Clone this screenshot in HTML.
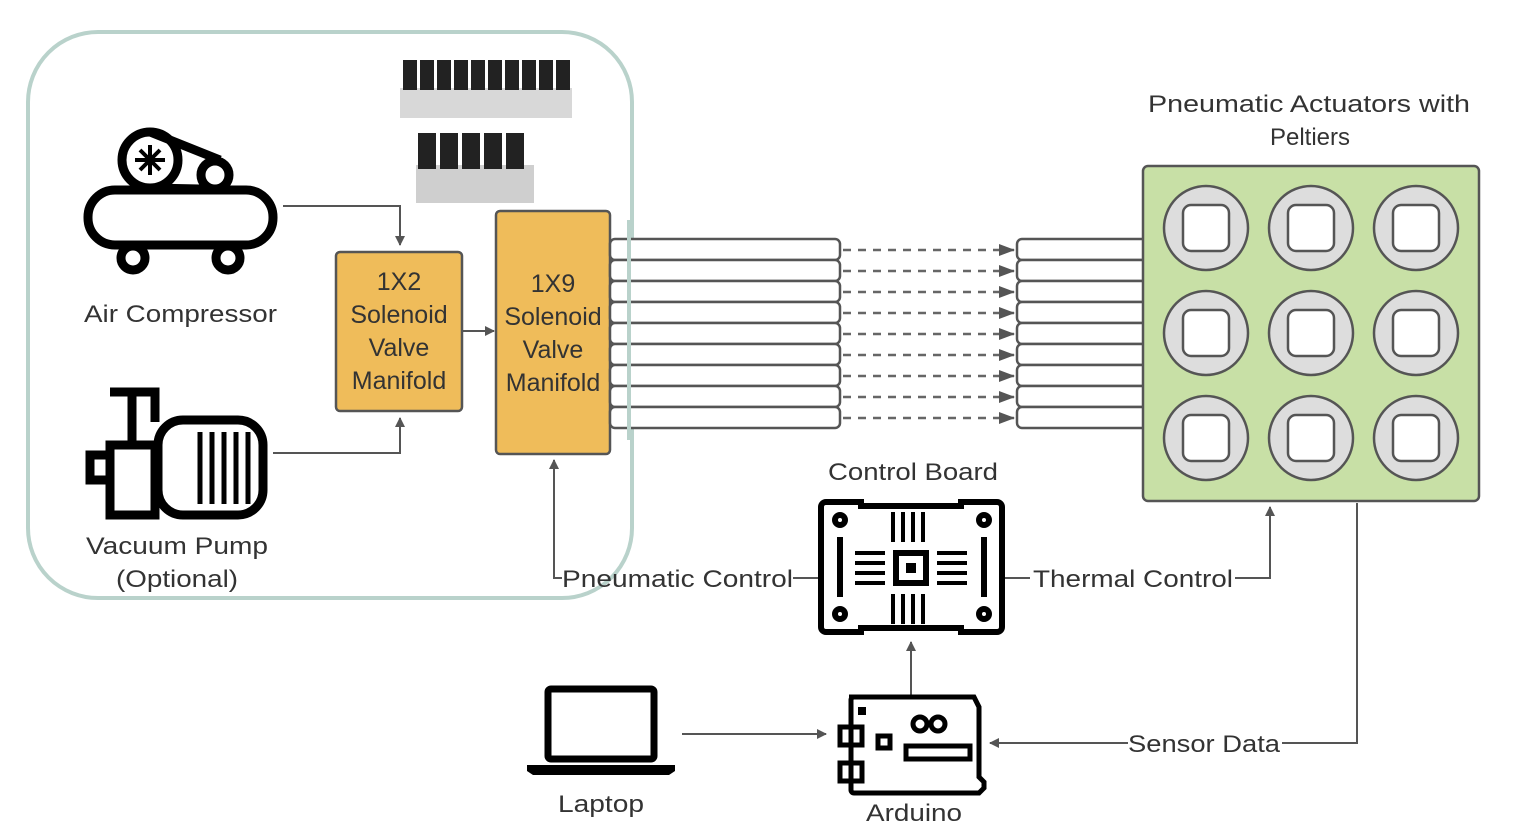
<!DOCTYPE html>
<html><head><meta charset="utf-8"><style>
html,body{margin:0;padding:0;background:#fff;}
svg{display:block;}
text{font-family:"Liberation Sans",sans-serif;fill:#333;}
</style></head><body>
<svg width="1513" height="837" viewBox="0 0 1513 837" xmlns="http://www.w3.org/2000/svg">
<defs>
<marker id="ah" markerWidth="10" markerHeight="10" refX="9" refY="5" orient="auto" markerUnits="userSpaceOnUse">
<path d="M0,0 L10,5 L0,10 z" fill="#555"/></marker>
<marker id="ah2" markerWidth="16" markerHeight="12" refX="15" refY="6" orient="auto" markerUnits="userSpaceOnUse">
<path d="M0,0 L16,6 L0,12 z" fill="#555"/></marker>
</defs>
<rect x="28" y="32" width="604" height="566" rx="70" fill="none" stroke="#b9d2cb" stroke-width="4"/>

<g>
<rect x="400" y="88" width="172" height="30" fill="#d8d8d8"/>
<g fill="#222">
<rect x="403" y="60" width="14" height="30"/><rect x="420" y="60" width="14" height="30"/><rect x="437" y="60" width="14" height="30"/><rect x="454" y="60" width="14" height="30"/><rect x="471" y="60" width="14" height="30"/><rect x="488" y="60" width="14" height="30"/><rect x="505" y="60" width="14" height="30"/><rect x="522" y="60" width="14" height="30"/><rect x="539" y="60" width="14" height="30"/><rect x="556" y="60" width="14" height="30"/>
</g>
<rect x="416" y="165" width="118" height="38" fill="#cfcfcf"/>
<g fill="#222">
<rect x="418" y="133" width="18" height="36"/><rect x="440" y="133" width="18" height="36"/><rect x="462" y="133" width="18" height="36"/><rect x="484" y="133" width="18" height="36"/><rect x="506" y="133" width="18" height="36"/>
</g>
</g>

<g fill="none" stroke="#000" stroke-width="9">
<rect x="88" y="190" width="185" height="55" rx="27"/>
<circle cx="133" cy="258" r="12" fill="#fff"/><circle cx="228" cy="258" r="12" fill="#fff"/>
<circle cx="150" cy="160" r="28"/><circle cx="215" cy="175" r="14"/>
<path d="M150,132 L220,160 M150,188 L200,189"/>
</g>
<g stroke="#000" stroke-width="4"><path d="M135,160h30M150,145v30M140,150l20,20M160,150l-20,20"/></g>
<text x="84" y="322" font-size="24" textLength="193" lengthAdjust="spacingAndGlyphs">Air Compressor</text>

<g fill="none" stroke="#000" stroke-width="9">
<path d="M110,392h45v30 M132,392v50 M110,445h45v70h-45z M90,455h20v25h-20z"/>
<rect x="158" y="420" width="105" height="95" rx="25"/>
</g>
<g stroke="#000" stroke-width="5"><path d="M200,432v72M212,432v72M224,432v72M236,432v72M248,432v72"/></g>
<text x="86" y="554" font-size="24" textLength="182" lengthAdjust="spacingAndGlyphs">Vacuum Pump</text>
<text x="116" y="587" font-size="24" textLength="122" lengthAdjust="spacingAndGlyphs">(Optional)</text>

<g stroke="#555" stroke-width="2" fill="none">
<path d="M283,206H400V245" marker-end="url(#ah)"/>
<path d="M273,453H400V418" marker-end="url(#ah)"/>
<path d="M462,331H494" marker-end="url(#ah)"/>
<path d="M562,578H554V460" marker-end="url(#ah)"/>
<path d="M1235,578H1270V507" marker-end="url(#ah)"/>
<path d="M911,695V642" marker-end="url(#ah)"/>
<path d="M682,734H826" marker-end="url(#ah)"/>
<path d="M1357,503V743H1282"/>
<path d="M1128,743H990" marker-end="url(#ah)"/>
<path d="M793,578H820M1003,578H1030"/>
</g>

<rect x="336" y="252" width="126" height="159" rx="4" fill="#efbc5a" stroke="#555" stroke-width="2.5"/>
<text font-size="25" text-anchor="middle"><tspan x="399" y="290">1X2</tspan><tspan x="399" y="323">Solenoid</tspan><tspan x="399" y="356">Valve</tspan><tspan x="399" y="389">Manifold</tspan></text>
<rect x="496" y="211" width="114" height="243" rx="4" fill="#efbc5a" stroke="#555" stroke-width="2.5"/>
<text font-size="25" text-anchor="middle"><tspan x="553" y="292">1X9</tspan><tspan x="553" y="325">Solenoid</tspan><tspan x="553" y="358">Valve</tspan><tspan x="553" y="391">Manifold</tspan></text>

<g stroke="#555" stroke-width="2.5" fill="#fff">
<rect x="610" y="239" width="230" height="21" rx="5"/><rect x="610" y="260" width="230" height="21" rx="5"/><rect x="610" y="281" width="230" height="21" rx="5"/><rect x="610" y="302" width="230" height="21" rx="5"/><rect x="610" y="323" width="230" height="21" rx="5"/><rect x="610" y="344" width="230" height="21" rx="5"/><rect x="610" y="365" width="230" height="21" rx="5"/><rect x="610" y="386" width="230" height="21" rx="5"/><rect x="610" y="407" width="230" height="21" rx="5"/>
<rect x="1017" y="239" width="140" height="21" rx="5"/><rect x="1017" y="260" width="140" height="21" rx="5"/><rect x="1017" y="281" width="140" height="21" rx="5"/><rect x="1017" y="302" width="140" height="21" rx="5"/><rect x="1017" y="323" width="140" height="21" rx="5"/><rect x="1017" y="344" width="140" height="21" rx="5"/><rect x="1017" y="365" width="140" height="21" rx="5"/><rect x="1017" y="386" width="140" height="21" rx="5"/><rect x="1017" y="407" width="140" height="21" rx="5"/>
</g>
<line x1="629" y1="220" x2="629" y2="440" stroke="#b9d2cb" stroke-width="4"/>
<g stroke="#666" stroke-width="2.5" stroke-dasharray="8,7" fill="none">
<path d="M843,250H1014" marker-end="url(#ah2)"/><path d="M843,271H1014" marker-end="url(#ah2)"/><path d="M843,292H1014" marker-end="url(#ah2)"/><path d="M843,313H1014" marker-end="url(#ah2)"/><path d="M843,334H1014" marker-end="url(#ah2)"/><path d="M843,355H1014" marker-end="url(#ah2)"/><path d="M843,376H1014" marker-end="url(#ah2)"/><path d="M843,397H1014" marker-end="url(#ah2)"/><path d="M843,418H1014" marker-end="url(#ah2)"/>
</g>

<rect x="1143" y="166" width="336" height="335" rx="5" fill="#c8e0a6" stroke="#555" stroke-width="2.5"/>
<g stroke="#555" stroke-width="2.5">
<g fill="#ddd">
<circle cx="1206" cy="228" r="42"/><circle cx="1311" cy="228" r="42"/><circle cx="1416" cy="228" r="42"/>
<circle cx="1206" cy="333" r="42"/><circle cx="1311" cy="333" r="42"/><circle cx="1416" cy="333" r="42"/>
<circle cx="1206" cy="438" r="42"/><circle cx="1311" cy="438" r="42"/><circle cx="1416" cy="438" r="42"/>
</g>
<g fill="#fff">
<rect x="1183" y="205" width="46" height="46" rx="8"/><rect x="1288" y="205" width="46" height="46" rx="8"/><rect x="1393" y="205" width="46" height="46" rx="8"/>
<rect x="1183" y="310" width="46" height="46" rx="8"/><rect x="1288" y="310" width="46" height="46" rx="8"/><rect x="1393" y="310" width="46" height="46" rx="8"/>
<rect x="1183" y="415" width="46" height="46" rx="8"/><rect x="1288" y="415" width="46" height="46" rx="8"/><rect x="1393" y="415" width="46" height="46" rx="8"/>
</g></g>
<text x="1148" y="112" font-size="24" textLength="322" lengthAdjust="spacingAndGlyphs">Pneumatic Actuators with</text>
<text x="1310" y="145" font-size="24" text-anchor="middle">Peltiers</text>

<text x="828" y="480" font-size="24" textLength="170" lengthAdjust="spacingAndGlyphs">Control Board</text>
<g fill="none" stroke="#000" stroke-width="6">
<path d="M826,502h35v4h100v-4h36a5,5 0 0 1 5,5v120a5,5 0 0 1 -5,5h-36v-4h-100v4h-35a5,5 0 0 1 -5,-5v-120a5,5 0 0 1 5,-5z"/>
<circle cx="840" cy="520" r="5"/><circle cx="984" cy="520" r="5"/><circle cx="840" cy="614" r="5"/><circle cx="984" cy="614" r="5"/>
<path d="M840,537v60M984,537v60"/>
<rect x="896" y="553" width="30" height="30"/>
</g>
<rect x="906" y="563" width="10" height="10" fill="#000"/>
<g stroke="#000" stroke-width="4"><path d="M893,512v30M903,512v30M913,512v30M923,512v30M893,594v30M903,594v30M913,594v30M923,594v30M855,553h30M855,563h30M855,573h30M855,583h30M937,553h30M937,563h30M937,573h30M937,583h30"/></g>

<g fill="none" stroke="#000" stroke-width="5">
<path d="M849,697h125l5,10v70l5,5v6l-5,5h-125a3,3 0 0 1 -3,-3v-90a3,3 0 0 1 3,-3z"/>
<rect x="840" y="727" width="22" height="18"/><rect x="840" y="763" width="22" height="18"/>
<rect x="878" y="736" width="12" height="12"/><rect x="906" y="746" width="64" height="13"/>
<circle cx="920" cy="724" r="7"/><circle cx="938" cy="724" r="7"/>
</g>
<rect x="858" y="707" width="8" height="8" fill="#000"/>
<text x="866" y="821" font-size="24" textLength="96" lengthAdjust="spacingAndGlyphs">Arduino</text>

<g fill="none" stroke="#000" stroke-width="7"><rect x="548" y="689" width="106" height="70" rx="3"/></g>
<path d="M527,765h148v6l-6,4h-136l-6,-4z" fill="#000"/>
<text x="558" y="812" font-size="24" textLength="86" lengthAdjust="spacingAndGlyphs">Laptop</text>

<text x="562" y="587" font-size="24" textLength="231" lengthAdjust="spacingAndGlyphs">Pneumatic Control</text>
<text x="1033" y="587" font-size="24" textLength="200" lengthAdjust="spacingAndGlyphs">Thermal Control</text>
<text x="1128" y="752" font-size="24" textLength="152" lengthAdjust="spacingAndGlyphs">Sensor Data</text>
</svg>
</body></html>
